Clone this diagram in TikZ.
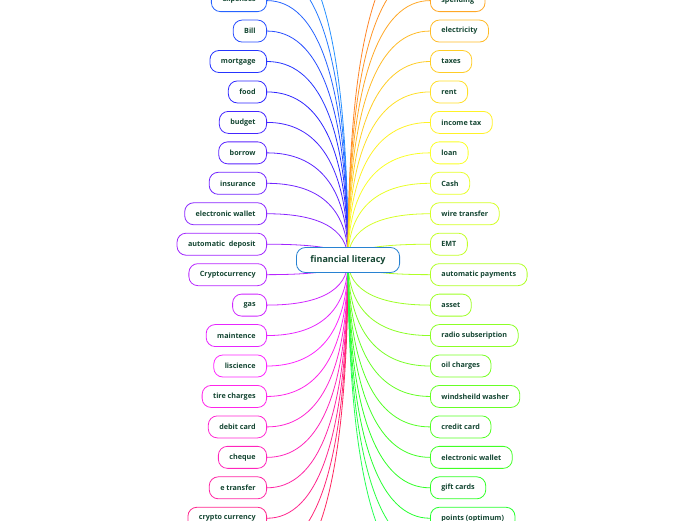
\documentclass[tikz,border=0pt]{standalone}
\usepackage{fontspec}
\setmainfont{Open Sans}
\usetikzlibrary{calc}
\definecolor{txt}{RGB}{20,70,50}
\definecolor{cblue}{RGB}{40,130,210}
\tikzset{
  leaf/.style={draw=#1, line width=0.8pt, rounded corners=9pt, minimum height=22pt, inner xsep=11pt, inner ysep=0pt, font=\fontsize{7.2}{8}\selectfont\bfseries, text=txt, fill=white},
  hub/.style={draw=cblue, line width=0.8pt, rounded corners=9pt, minimum height=25pt, inner xsep=14pt, font=\fontsize{9}{10}\selectfont\bfseries, text=txt, fill=white},
  link/.style={draw=#1, line width=0.8pt}
}
\begin{document}
\begin{tikzpicture}[x=1pt,y=-1pt]
\useasboundingbox (0,0) rectangle (696,520);
\clip (0,0) rectangle (696,520);
\coordinate (c) at (348,260);
% left side
\foreach \i/\t in {-2/{},-1/{},0/expenses,1/Bill,2/mortgage,3/food,4/budget,5/borrow,6/insurance,7/electronic wallet,8/automatic~ deposit,9/Cryptocurrency,10/gas,11/maintence,12/liscience,13/tire charges,14/debit card,15/cheque,16/e transfer,17/crypto currency,18/{},19/{}}{
  \pgfmathsetmacro\h{0.62+0.3*(\i/17)}
  \pgfmathsetmacro\hh{\h>1?\h-1:\h}
  \definecolor{tmpc}{hsb}{\hh,0.85,1}
  \colorlet{lc\i}[rgb]{tmpc}
  \pgfmathsetmacro\y{0.6+30.45*\i}
  \coordinate (L\i) at (267,\y);
  \draw[link=lc\i] (c) .. controls ($(c)+(0,{(\y-260)*0.7})$) and ($(L\i)+(50,0)$) .. (L\i);
  \ifnum\i>-1 \ifnum\i<18
    \node[leaf=lc\i, anchor=east] (l\i) at (L\i) {\t};
  \fi\fi
}
% right side
\foreach \i/\t in {-2/{},-1/{},0/spending,1/electricity,2/taxes,3/rent,4/income tax,5/loan,6/Cash,7/wire transfer,8/EMT,9/automatic payments,10/asset,11/radio subseription,12/oil charges,13/windsheild washer,14/credit card,15/electronic wallet,16/gift cards,17/points (optimum),18/{},19/{}}{
  \pgfmathsetmacro\h{0.10+0.24*(\i/17)}
  \pgfmathsetmacro\hh{\h<0?\h+1:\h}
  \definecolor{tmpc}{hsb}{\hh,0.85,1}
  \colorlet{rc\i}[rgb]{tmpc}
  \pgfmathsetmacro\y{0.6+30.45*\i}
  \coordinate (R\i) at (430,\y);
  \draw[link=rc\i] (c) .. controls ($(c)+(0,{(\y-260)*0.7})$) and ($(R\i)+(-50,0)$) .. (R\i);
  \ifnum\i>-1 \ifnum\i<18
    \node[leaf=rc\i, anchor=west] (r\i) at (R\i) {\t};
  \fi\fi
}
\node[hub] (hub) at (348,260) {financial literacy};
\end{tikzpicture}
\end{document}
